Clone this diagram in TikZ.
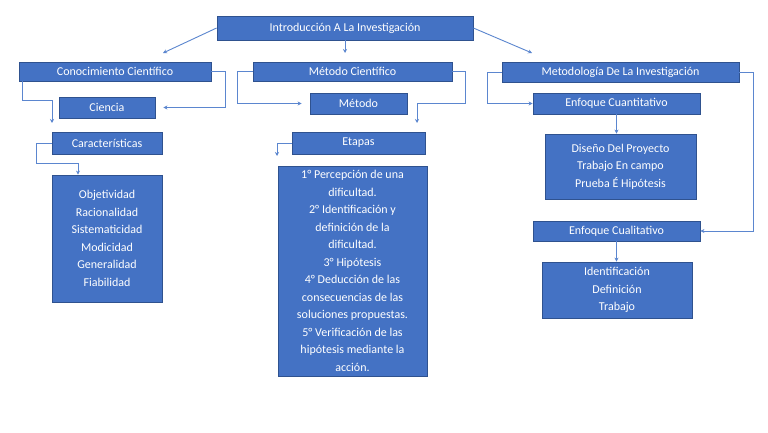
\documentclass[tikz,border=0pt]{standalone}
\usepackage{fontspec}
\setmainfont{Carlito}
\usetikzlibrary{arrows.meta}
\definecolor{bfill}{HTML}{4472C4}
\definecolor{bdraw}{HTML}{2F528F}
\definecolor{lnk}{HTML}{5B86CF}
\tikzset{
 bx/.style={draw=bdraw,fill=bfill,line width=0.8pt,text=white,font=\fontsize{12}{17.5}\selectfont,align=center,inner sep=0pt},
 cn/.style={draw=lnk,line width=0.9pt,-{Stealth[length=4pt,width=4pt]}}
}
\newcommand{\bxx}[6]{\node[bx,minimum width=#4-#2,minimum height=#5-#3] (#1) at ({(#2+#4)/2},{(#3+#5)/2}) {#6};}
\begin{document}
\begin{tikzpicture}[x=1pt,y=-1pt]
\useasboundingbox (0,0) rectangle (768,433);
\fill[white] (0,0) rectangle (768,433);
\bxx{intro}{217}{16}{473}{40}{Introducción A La Investigación}
\bxx{con}{19}{62}{211}{81}{Conocimiento Científico}
\bxx{cie}{59}{97}{155}{118}{Ciencia}
\bxx{car}{52}{132}{162}{154}{Características}
\bxx{obj}{52}{175}{162}{302}{Objetividad\\Racionalidad\\Sistematicidad\\Modicidad\\Generalidad\\Fiabilidad}
\bxx{mc}{253}{62}{452}{81}{Método Científico}
\bxx{met}{310}{93}{407}{114}{Método}
\bxx{eta}{292}{132}{425}{154}{Etapas}
\bxx{etl}{278}{166}{427}{376}{1° Percepción de una\\dificultad.\\2° Identificación y\\definición de la\\dificultad.\\3° Hipótesis\\4° Deducción de las\\consecuencias de las\\soluciones propuestas.\\5° Verificación de las\\hipótesis mediante la\\acción.}
\bxx{mi}{502}{62}{739}{82}{Metodología De La Investigación}
\bxx{ecn}{533}{93}{700}{114}{Enfoque Cuantitativo}
\bxx{dis}{545}{134}{696}{199}{Diseño Del Proyecto\\Trabajo En campo\\Prueba É Hipótesis}
\bxx{ecl}{533}{221}{700}{241}{Enfoque Cualitativo}
\bxx{ide}{542}{262}{692}{318}{Identificación\\Definición\\Trabajo}
\coordinate (t1) at (163,53);
\coordinate (t2) at (345,53);
\coordinate (t3) at (532,53);
\coordinate (t4) at (52,123);
\coordinate (t5) at (417,123);
\coordinate (t6) at (277,156);
\draw[cn] (intro.west) -- (t1);
\draw[cn] (intro.south) -- (t2);
\draw[cn] (intro.east) -- (t3);
\draw[cn] (con.east) -- ++(14,0) |- ([xshift=8pt]cie.east);
\draw[cn] ([xshift=4pt]con.south west) |- (52,100) -- (t4);
\draw[cn] (car.west) -- ++(-15,0) |- (78,163) -- (obj.north west -| 78,0);
\draw[cn] (mc.west) -- ++(-15,0) |- ([xshift=-8pt]met.west);
\draw[cn] (mc.east) -- ++(13,0) |- (417,103) -- (t5);
\draw[cn] (eta.west) -| (t6);
\draw[cn] (mi.west) -- ++(-14,0) |- (ecn.west);
\draw[cn] (ecn.south) -- (dis.north -| ecn.south);
\draw[cn] (mi.east) -- ++(14,0) |- (ecl.east);
\draw[cn] (ecl.south) -- (ide.north -| ecl.south);
\end{tikzpicture}
\end{document}
